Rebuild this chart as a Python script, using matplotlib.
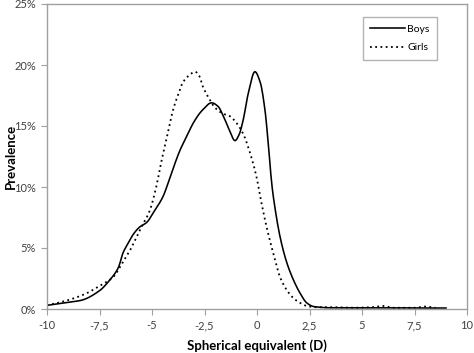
import matplotlib
matplotlib.use("Agg")
import matplotlib.pyplot as plt
import numpy as np

boys_x = [-10, -9.0, -8.4, -7.5, -7.0, -6.6, -6.38, -6.1, -5.9, -5.6, -5.25, -4.9, -4.48, -4.1, -3.67, -3.3, -3.05, -2.6,
          -2.16, -1.85, -1.6, -1.3, -1.05, -0.85, -0.67, -0.4, -0.1, 0.15, 0.38, 0.55, 0.7, 0.9, 1.1, 1.4, 1.73, 2.05, 2.37, 2.7,
          3.5, 5.0, 6.5, 8.0, 9.0]
boys_y = [0.3, 0.55, 0.7, 1.5, 2.4, 3.4, 4.6, 5.5, 6.1, 6.7, 7.1, 8.0, 9.2, 11.0, 13.0, 14.3, 15.2, 16.3,
          16.9, 16.6, 15.8, 14.6, 13.8, 14.3, 15.4, 17.8, 19.45, 18.6, 16.3, 13.3, 10.3, 7.8, 5.9, 3.9, 2.4, 1.3, 0.5, 0.2,
          0.1, 0.1, 0.1, 0.08, 0.08]

girls_x = [-10, -9.05, -8.1, -7.5, -6.86, -6.4, -6.05, -5.57, -5.1, -4.8, -4.54, -4.25, -4.0, -3.75, -3.52, -3.2, -2.95,
           -2.75, -2.57, -2.3, -2.0, -1.6, -1.29, -1.0, -0.67, -0.35, -0.02, 0.2, 0.46, 0.8, 1.1, 1.4, 1.73, 2.05, 2.37, 2.8,
           3.5, 4.5, 5.5, 6.0, 6.5, 7.5, 8.0, 8.5]
girls_y = [0.3, 0.7, 1.3, 1.9, 2.6, 3.8, 4.8, 6.5, 8.1, 10.0, 12.2, 14.4, 16.3, 17.6, 18.6, 19.2, 19.45,
           19.1, 18.2, 17.3, 16.5, 16.0, 15.8, 15.3, 14.4, 12.9, 10.8, 8.8, 6.7, 4.4, 2.6, 1.6, 0.9, 0.5, 0.25, 0.15,
           0.15, 0.1, 0.15, 0.25, 0.1, 0.1, 0.2, 0.1]

x_ticks = [-10, -7.5, -5, -2.5, 0, 2.5, 5, 7.5, 10]
x_tick_labels = ["-10", "-7,5", "-5", "-2,5", "0", "2,5", "5", "7,5", "10"]
y_ticks = [0, 5, 10, 15, 20, 25]
y_tick_labels = ["0%", "5%", "10%", "15%", "20%", "25%"]

plt.rcParams['font.family'] = ['Lato', 'DejaVu Sans']

fig = plt.figure(figsize=(4.74, 3.53), dpi=100)
ax = fig.add_axes([47/474, 44/353, 420/474, 305/353])

def smooth(xs, ys, n=600):
    xs = np.asarray(xs, float); ys = np.asarray(ys, float)
    # monotone cubic (PCHIP) interpolation to draw a smooth line through read points
    h = np.diff(xs); d = np.diff(ys) / h
    m = np.zeros_like(ys)
    for i in range(1, len(xs) - 1):
        if d[i-1] * d[i] > 0:
            w1 = 2*h[i] + h[i-1]; w2 = h[i] + 2*h[i-1]
            m[i] = (w1 + w2) / (w1/d[i-1] + w2/d[i])
    m[0] = d[0]; m[-1] = d[-1]
    xx = np.linspace(xs[0], xs[-1], n)
    idx = np.clip(np.searchsorted(xs, xx) - 1, 0, len(xs) - 2)
    t = (xx - xs[idx]) / h[idx]
    h00 = 2*t**3 - 3*t**2 + 1; h10 = t**3 - 2*t**2 + t
    h01 = -2*t**3 + 3*t**2; h11 = t**3 - t**2
    yy = h00*ys[idx] + h10*h[idx]*m[idx] + h01*ys[idx+1] + h11*h[idx]*m[idx+1]
    return xx, yy

bx, by = smooth(boys_x, boys_y)
gx, gy = smooth(girls_x, girls_y)
ax.plot(bx, by, color='black', lw=1.15, label='Boys')
ax.plot(gx, gy, color='black', lw=1.3, linestyle=(0, (1.0, 1.9)), label='Girls')

ax.set_xlim(-10, 10)
ax.set_ylim(0, 25)
ax.set_xticks(x_ticks)
ax.set_xticklabels(x_tick_labels)
ax.set_yticks(y_ticks)
ax.set_yticklabels(y_tick_labels)
ax.tick_params(direction='out', length=4, color='#a0a0a0', labelsize=8, labelcolor='#404040', pad=4)
for s in ax.spines.values():
    s.set_color('#a0a0a0')
    s.set_linewidth(1.0)

ax.set_xlabel('Spherical equivalent (D)', fontsize=9.5, fontweight='bold', labelpad=6)
ax.set_ylabel('Prevalence', fontsize=9.5, fontweight='bold')
ax.yaxis.set_label_coords(-0.072, 0.5)

leg = ax.legend(loc='upper right', bbox_to_anchor=(437/474, (353-17)/353), bbox_transform=fig.transFigure,
                fontsize=7.5, frameon=True, fancybox=False, handlelength=3.4, borderpad=0.7, labelspacing=0.9,
                handletextpad=0.2, borderaxespad=0.0, markerfirst=True)
leg.get_frame().set_edgecolor('#a0a0a0')
leg.get_frame().set_linewidth(1.0)

fig.savefig('out.png', dpi=100)
